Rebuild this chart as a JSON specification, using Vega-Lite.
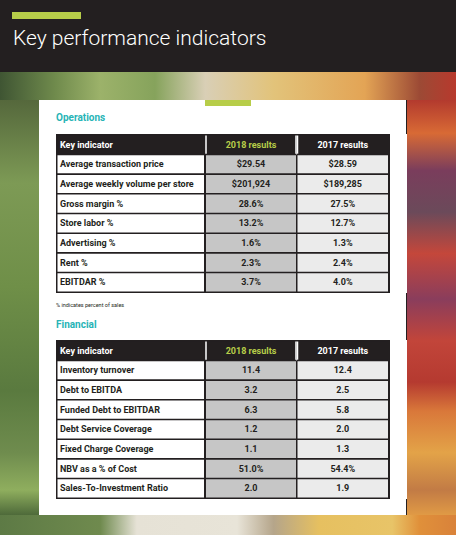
{
  "$schema": "https://vega.github.io/schema/vega-lite/v6.json",
  "background": "#231f20",
  "padding": 0,
  "autosize": {"type": "pad"},
  "title": {
    "text": "Key performance indicators",
    "orient": "top",
    "anchor": "start",
    "frame": "bounds",
    "offset": -46,
    "dx": 13,
    "dy": 20,
    "baseline": "alphabetic",
    "font": "Roboto",
    "fontSize": 21,
    "fontWeight": 300,
    "color": "#ffffff"
  },
  "config": {
    "view": {"stroke": null},
    "concat": {"spacing": 0},
    "font": "Roboto"
  },
  "datasets": {
    "operations": [
      {"indicator": "Key indicator", "r2018": "2018 results", "r2017": "2017 results"},
      {"indicator": "Average transaction price", "r2018": "$29.54", "r2017": "$28.59"},
      {"indicator": "Average weekly volume per store", "r2018": "$201,924", "r2017": "$189,285"},
      {"indicator": "Gross margin %", "r2018": "28.6%", "r2017": "27.5%"},
      {"indicator": "Store labor %", "r2018": "13.2%", "r2017": "12.7%"},
      {"indicator": "Advertising %", "r2018": "1.6%", "r2017": "1.3%"},
      {"indicator": "Rent %", "r2018": "2.3%", "r2017": "2.4%"},
      {"indicator": "EBITDAR %", "r2018": "3.7%", "r2017": "4.0%"}
    ],
    "financial": [
      {"indicator": "Key indicator", "r2018": "2018 results", "r2017": "2017 results"},
      {"indicator": "Inventory turnover", "r2018": "11.4", "r2017": "12.4"},
      {"indicator": "Debt to EBITDA", "r2018": "3.2", "r2017": "2.5"},
      {"indicator": "Funded Debt to EBITDAR", "r2018": "6.3", "r2017": "5.8"},
      {"indicator": "Debt Service Coverage", "r2018": "1.2", "r2017": "2.0"},
      {"indicator": "Fixed Charge Coverage", "r2018": "1.1", "r2017": "1.3"},
      {"indicator": "NBV as a % of Cost", "r2018": "51.0%", "r2017": "54.4%"},
      {"indicator": "Sales-To-Investment Ratio", "r2018": "2.0", "r2017": "1.9"}
    ]
  },
  "vconcat": [
    {
      "hconcat": [
        {"width": 12, "height": 72, "data": {"values": []}, "mark": "rect"},
        {
          "vconcat": [
            {"width": 69, "height": 12, "data": {"values": []}, "mark": "rect"},
            {"width": 69, "height": 7, "data": {"values": []}, "mark": "rect", "view": {"fill": "#b7cd49"}},
            {"width": 69, "height": 53, "data": {"values": []}, "mark": "rect"}
          ]
        }
      ]
    },
    {
      "width": 456, "height": 28, "data": {"values": []}, "mark": "rect",
      "view": {"fill": {"gradient": "linear", "x1": 0, "y1": 0, "x2": 1, "y2": 0, "stops": [
        {"offset": 0, "color": "#3f5533"},
        {"offset": 0.12, "color": "#6f8a4c"},
        {"offset": 0.22, "color": "#9cb26a"},
        {"offset": 0.34, "color": "#86a35c"},
        {"offset": 0.45, "color": "#d9cfb6"},
        {"offset": 0.6, "color": "#e2c37a"},
        {"offset": 0.8, "color": "#e3a455"},
        {"offset": 0.92, "color": "#9c4a35"},
        {"offset": 1, "color": "#b8392d"}
      ]}}
    },
    {
      "hconcat": [
        {
          "width": 39, "height": 415, "data": {"values": []}, "mark": "rect",
          "view": {"fill": {"gradient": "linear", "x1": 0, "y1": 0, "x2": 0, "y2": 1, "stops": [
            {"offset": 0, "color": "#55683c"},
            {"offset": 0.2, "color": "#7d9a55"},
            {"offset": 0.45, "color": "#6f8f48"},
            {"offset": 0.7, "color": "#5a7a3f"},
            {"offset": 0.85, "color": "#6f8c4e"},
            {"offset": 0.94, "color": "#8fae5e"},
            {"offset": 1, "color": "#4e6a3a"}
          ]}}
        },
        {
          "vconcat": [
            {
              "hconcat": [
                {"width": 166, "height": 6, "data": {"values": []}, "mark": "rect", "view": {"fill": "#ffffff"}},
                {"width": 46, "height": 6, "data": {"values": []}, "mark": "rect", "view": {"fill": "#b7cd49"}},
                {"width": 155, "height": 6, "data": {"values": []}, "mark": "rect", "view": {"fill": "#ffffff"}}
              ]
            },
            {"width": 367, "height": 28, "data": {"values": []}, "mark": "rect", "view": {"fill": "#ffffff"},
             "title": {"text": "Operations", "anchor": "start", "orient": "bottom", "offset": -13, "dx": 17, "baseline": "alphabetic", "font": "'Liberation Sans Narrow', Roboto, sans-serif", "fontSize": 10, "fontWeight": "bold", "color": "#27b4b6"}},
            {
              "bounds": "flush",
              "spacing": 1.5,
              "hconcat": [
                {"width": 17, "height": 159, "data": {"values": []}, "mark": "rect", "view": {"fill": "#ffffff"}},
                {
                  "width": 146.5, "height": 159,
                  "data": {"name": "operations"},
                  "encoding": {
                    "y": {"field": "indicator", "type": "nominal", "sort": null, "scale": {"paddingInner": 0.0762, "paddingOuter": 0.0762},
                      "axis": {"title": null, "ticks": false, "domain": false, "grid": false, "zindex": 1,
                        "labelAlign": "left", "labelPadding": -2, "labelLimit": 0, "labelFont": "'Liberation Sans Narrow', Roboto, sans-serif", "labelFontSize": 9, "labelFontWeight": "bold",
                        "labelColor": {"condition": {"test": "datum.value === 'Key indicator'", "value": "#ffffff"}, "value": "#231f20"}}}
                  },
                  "layer": [
                    {"mark": {"type": "rect"},
                     "encoding": {"fill": {"condition": {"test": "datum.indicator === 'Key indicator'", "value": "#231f20"}, "value": "#ffffff"}}}
                  ]
                },
                {
                  "width": 90, "height": 159,
                  "data": {"name": "operations"},
                  "encoding": {
                    "y": {"field": "indicator", "type": "nominal", "sort": null, "scale": {"paddingInner": 0.0762, "paddingOuter": 0.0762}, "axis": null}
                  },
                  "layer": [
                    {"mark": {"type": "rect", "stroke": "#ffffff", "strokeWidth": 1.5, "strokeDash": [0, 90, 18.2, 90, 18.2]},
                     "encoding": {"fill": {"condition": {"test": "datum.indicator === 'Key indicator'", "value": "#231f20"}, "value": "#c6c6c6"},
                       "strokeOpacity": {"condition": {"test": "datum.indicator === 'Key indicator'", "value": 1}, "value": 0}}},
                    {"mark": {"type": "text", "font": "'Liberation Sans Narrow', Roboto, sans-serif", "fontSize": 9, "fontWeight": "bold"},
                     "encoding": {"text": {"field": "r2018"}, "color": {"condition": {"test": "datum.indicator === 'Key indicator'", "value": "#b7cd49"}, "value": "#231f20"}}}
                  ]
                },
                {
                  "width": 90.5, "height": 159,
                  "data": {"name": "operations"},
                  "encoding": {
                    "y": {"field": "indicator", "type": "nominal", "sort": null, "scale": {"paddingInner": 0.0762, "paddingOuter": 0.0762}, "axis": null}
                  },
                  "layer": [
                    {"mark": {"type": "rect", "stroke": "#ffffff", "strokeWidth": 1.5, "strokeDash": [0, 199.2, 18.2]},
                     "encoding": {"fill": {"condition": {"test": "datum.indicator === 'Key indicator'", "value": "#231f20"}, "value": "#ebebeb"},
                       "strokeOpacity": {"condition": {"test": "datum.indicator === 'Key indicator'", "value": 1}, "value": 0}}},
                    {"mark": {"type": "text", "font": "'Liberation Sans Narrow', Roboto, sans-serif", "fontSize": 9, "fontWeight": "bold"},
                     "encoding": {"text": {"field": "r2017"}, "color": {"condition": {"test": "datum.indicator === 'Key indicator'", "value": "#ffffff"}, "value": "#231f20"}}}
                  ]
                },
                {"width": 17, "height": 159, "data": {"values": []}, "mark": "rect", "view": {"fill": "#ffffff"}}
              ]
            },
            {"width": 367, "height": 20, "data": {"values": []}, "mark": "rect", "view": {"fill": "#ffffff"},
             "title": {"text": "% indicates percent of sales", "anchor": "start", "orient": "bottom", "offset": -6, "dx": 17, "baseline": "alphabetic", "font": "Roboto", "fontSize": 5.5, "fontWeight": "normal", "color": "#231f20"}},
            {"width": 367, "height": 27, "data": {"values": []}, "mark": "rect", "view": {"fill": "#ffffff"},
             "title": {"text": "Financial", "anchor": "start", "orient": "bottom", "offset": -12, "dx": 17, "baseline": "alphabetic", "font": "'Liberation Sans Narrow', Roboto, sans-serif", "fontSize": 10, "fontWeight": "bold", "color": "#27b4b6"}},
            {
              "bounds": "flush",
              "spacing": 1.5,
              "hconcat": [
                {"width": 17, "height": 159, "data": {"values": []}, "mark": "rect", "view": {"fill": "#ffffff"}},
                {
                  "width": 146.5, "height": 159,
                  "data": {"name": "financial"},
                  "encoding": {
                    "y": {"field": "indicator", "type": "nominal", "sort": null, "scale": {"paddingInner": 0.0762, "paddingOuter": 0.0762},
                      "axis": {"title": null, "ticks": false, "domain": false, "grid": false, "zindex": 1,
                        "labelAlign": "left", "labelPadding": -2, "labelLimit": 0, "labelFont": "'Liberation Sans Narrow', Roboto, sans-serif", "labelFontSize": 9, "labelFontWeight": "bold",
                        "labelColor": {"condition": {"test": "datum.value === 'Key indicator'", "value": "#ffffff"}, "value": "#231f20"}}}
                  },
                  "layer": [
                    {"mark": {"type": "rect"},
                     "encoding": {"fill": {"condition": {"test": "datum.indicator === 'Key indicator'", "value": "#231f20"}, "value": "#ffffff"}}}
                  ]
                },
                {
                  "width": 90, "height": 159,
                  "data": {"name": "financial"},
                  "encoding": {
                    "y": {"field": "indicator", "type": "nominal", "sort": null, "scale": {"paddingInner": 0.0762, "paddingOuter": 0.0762}, "axis": null}
                  },
                  "layer": [
                    {"mark": {"type": "rect", "stroke": "#ffffff", "strokeWidth": 1.5, "strokeDash": [0, 90, 18.2, 90, 18.2]},
                     "encoding": {"fill": {"condition": {"test": "datum.indicator === 'Key indicator'", "value": "#231f20"}, "value": "#c6c6c6"},
                       "strokeOpacity": {"condition": {"test": "datum.indicator === 'Key indicator'", "value": 1}, "value": 0}}},
                    {"mark": {"type": "text", "font": "'Liberation Sans Narrow', Roboto, sans-serif", "fontSize": 9, "fontWeight": "bold"},
                     "encoding": {"text": {"field": "r2018"}, "color": {"condition": {"test": "datum.indicator === 'Key indicator'", "value": "#b7cd49"}, "value": "#231f20"}}}
                  ]
                },
                {
                  "width": 90.5, "height": 159,
                  "data": {"name": "financial"},
                  "encoding": {
                    "y": {"field": "indicator", "type": "nominal", "sort": null, "scale": {"paddingInner": 0.0762, "paddingOuter": 0.0762}, "axis": null}
                  },
                  "layer": [
                    {"mark": {"type": "rect", "stroke": "#ffffff", "strokeWidth": 1.5, "strokeDash": [0, 199.2, 18.2]},
                     "encoding": {"fill": {"condition": {"test": "datum.indicator === 'Key indicator'", "value": "#231f20"}, "value": "#ebebeb"},
                       "strokeOpacity": {"condition": {"test": "datum.indicator === 'Key indicator'", "value": 1}, "value": 0}}},
                    {"mark": {"type": "text", "font": "'Liberation Sans Narrow', Roboto, sans-serif", "fontSize": 9, "fontWeight": "bold"},
                     "encoding": {"text": {"field": "r2017"}, "color": {"condition": {"test": "datum.indicator === 'Key indicator'", "value": "#ffffff"}, "value": "#231f20"}}}
                  ]
                },
                {"width": 17, "height": 159, "data": {"values": []}, "mark": "rect", "view": {"fill": "#ffffff"}}
              ]
            },
            {"width": 367, "height": 16, "data": {"values": []}, "mark": "rect", "view": {"fill": "#ffffff"}}
          ]
        },
        {
          "width": 50, "height": 415, "data": {"values": []}, "mark": "rect",
          "view": {"fill": {"gradient": "linear", "x1": 0, "y1": 0, "x2": 0, "y2": 1, "stops": [
            {"offset": 0, "color": "#b33a2e"},
            {"offset": 0.08, "color": "#d86a35"},
            {"offset": 0.17, "color": "#7a3d5c"},
            {"offset": 0.27, "color": "#6b4a5a"},
            {"offset": 0.37, "color": "#c4473b"},
            {"offset": 0.48, "color": "#8a3d5c"},
            {"offset": 0.58, "color": "#c2453a"},
            {"offset": 0.68, "color": "#b53a30"},
            {"offset": 0.75, "color": "#d9783a"},
            {"offset": 0.85, "color": "#e3a348"},
            {"offset": 0.94, "color": "#c27b45"},
            {"offset": 1, "color": "#e09a45"}
          ]}}
        }
      ]
    },
    {
      "width": 456, "height": 20, "data": {"values": []}, "mark": "rect",
      "view": {"fill": {"gradient": "linear", "x1": 0, "y1": 0, "x2": 1, "y2": 0, "stops": [
        {"offset": 0, "color": "#5d7a45"},
        {"offset": 0.22, "color": "#6f8a4e"},
        {"offset": 0.3, "color": "#e6e2d6"},
        {"offset": 0.52, "color": "#e8e4d8"},
        {"offset": 0.6, "color": "#b5a58a"},
        {"offset": 0.7, "color": "#e6c060"},
        {"offset": 0.86, "color": "#e8c468"},
        {"offset": 0.92, "color": "#e0903a"},
        {"offset": 1, "color": "#d9823a"}
      ]}}
    }
  ]
}
